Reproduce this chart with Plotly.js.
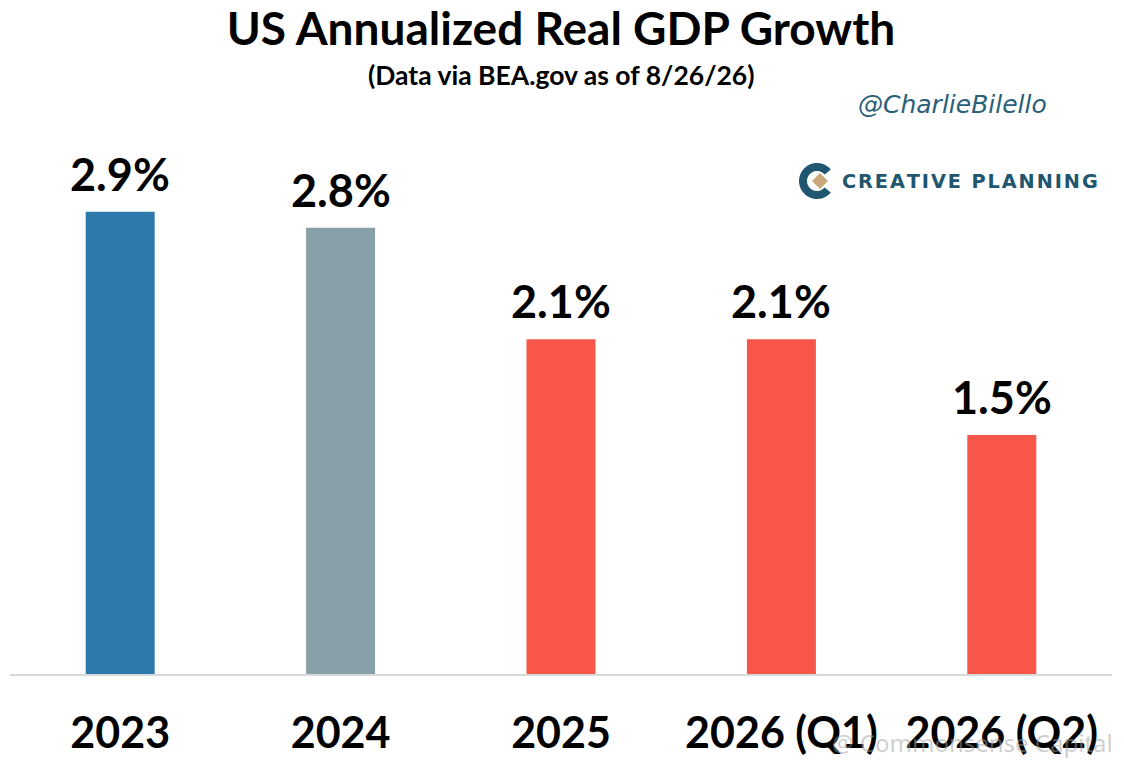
<!DOCTYPE html>
<html>
<head>
<meta charset="utf-8">
<script src="https://cdn.plot.ly/plotly-3.0.1.min.js"></script>
<style>html,body{margin:0;padding:0;background:#fff;}#chart{width:1124px;height:768px;}</style>
</head>
<body>
<div id="chart"></div>
<script>
var categories = ["2023", "2024", "2025", "2026 (Q1)", "2026 (Q2)"];
var growth = [2.9, 2.8, 2.1, 2.1, 1.5];
var valueLabels = ["2.9%", "2.8%", "2.1%", "2.1%", "1.5%"];
var barColors = ["#2e79ab", "#88a0a8", "#f9564a", "#f9564a", "#f9564a"];

var W = 1124, H = 768;
var mL = 10, mR = 12, mT = 132, mB = 94;
var pw = W - mL - mR, ph = H - mT - mB;
function px(x){ return (x - mL) / pw; }
function py(y){ return (H - mB - y) / ph; }

function arcPath(cx, cy, rO, rI, a0, a1){
  var pts = [], n = 40, i, a;
  for(i=0;i<=n;i++){ a = (a0 + (a1-a0)*i/n) * Math.PI/180; pts.push([cx + rO*Math.cos(a), cy - rO*Math.sin(a)]); }
  for(i=n;i>=0;i--){ a = (a0 + (a1-a0)*i/n) * Math.PI/180; pts.push([cx + rI*Math.cos(a), cy - rI*Math.sin(a)]); }
  return 'M' + pts.map(function(p){ return px(p[0]).toFixed(5) + ',' + py(p[1]).toFixed(5); }).join('L') + 'Z';
}
function diamond(cx, cy, r){
  return 'M' + px(cx).toFixed(5)+','+py(cy-r).toFixed(5) + 'L' + px(cx+r).toFixed(5)+','+py(cy).toFixed(5) +
         'L' + px(cx).toFixed(5)+','+py(cy+r).toFixed(5) + 'L' + px(cx-r).toFixed(5)+','+py(cy).toFixed(5) + 'Z';
}

var trace = {
  type: 'bar',
  x: categories,
  y: growth,
  marker: { color: barColors },
  hoverinfo: 'none'
};

var hs = '\u200A';
var logoText = 'CREATIVE PLANNING'.split('').join(hs);

var annotations = categories.map(function(c, i){
  return { x: i, y: growth[i], xref: 'x', yref: 'y', text: valueLabels[i], showarrow: false,
           yanchor: 'bottom', yshift: 9, font: { family: 'Lato, sans-serif', size: 45, color: '#000', weight: 'bold' } };
});
annotations.push({ xref: 'paper', yref: 'paper', x: 0.5, y: py(75), text: '(Data via BEA.gov as of 8/26/26)', showarrow: false,
  xanchor: 'center', yanchor: 'middle', font: { family: 'Lato, sans-serif', size: 26.5, color: '#000', weight: 'bold' } });
annotations.push({ xref: 'paper', yref: 'paper', x: px(952), y: py(104), text: '@CharlieBilello', showarrow: false,
  xanchor: 'center', yanchor: 'middle', font: { family: 'DejaVu Sans, sans-serif', size: 25, color: '#2a6078', style: 'italic' } });
annotations.push({ xref: 'paper', yref: 'paper', x: px(840), y: py(181), text: logoText, showarrow: false,
  xanchor: 'left', yanchor: 'middle', font: { family: 'DejaVu Sans, sans-serif', size: 19.3, color: '#22566f', weight: 'bold' } });
annotations.push({ xref: 'paper', yref: 'paper', x: px(1115), y: py(742), text: '@ Commonsense Capital', showarrow: false,
  xanchor: 'right', yanchor: 'middle', font: { family: 'Noto Sans, sans-serif', size: 24, color: 'rgba(160,160,160,0.5)' } });

var layout = {
  width: W, height: H,
  margin: { l: mL, r: mR, t: mT, b: mB, pad: 0 },
  paper_bgcolor: '#fff', plot_bgcolor: '#fff',
  showlegend: false,
  bargap: 0.687,
  title: { text: 'US Annualized Real GDP Growth',
           x: 0.5, xanchor: 'center', xref: 'paper', y: 1 - 29 / H, yref: 'container', yanchor: 'middle',
           font: { family: 'Lato, sans-serif', size: 46, color: '#000', weight: 'bold' } },
  xaxis: { type: 'category', showline: true, linecolor: '#d9d9d9', linewidth: 1.5, ticks: '', showgrid: false,
           tickfont: { family: 'Lato, sans-serif', size: 43, color: '#000', weight: 'bold' }, ticklabelstandoff: 21, fixedrange: true },
  yaxis: { range: [0, 3.4], showgrid: false, zeroline: false, showticklabels: false, ticks: '', showline: false, fixedrange: true },
  annotations: annotations,
  shapes: [
    { type: 'path', xref: 'paper', yref: 'paper', path: arcPath(817, 181, 18, 10, 40, 320), fillcolor: '#1f5670', line: { width: 0 } },
    { type: 'path', xref: 'paper', yref: 'paper', path: diamond(820, 181, 8), fillcolor: '#c9a97a', line: { width: 0 } }
  ]
};

Plotly.newPlot('chart', [trace], layout, { displayModeBar: false, staticPlot: true });
</script>
</body>
</html>
